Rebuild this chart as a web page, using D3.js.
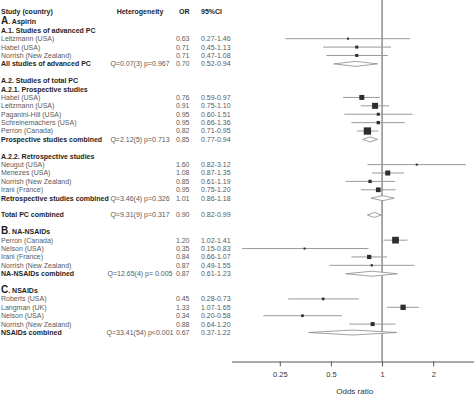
<!DOCTYPE html>
<html>
<head>
<meta charset="utf-8">
<script src="https://cdn.jsdelivr.net/npm/d3@7"></script>
<style>
  body { margin: 0; background: #fff; }
  svg { display: block; font-family: "Liberation Sans", Arial, Helvetica, sans-serif; }
</style>
</head>
<body>
<script>
// individual studies
var studyNames = ["Leitzmann (USA)", "Habel (USA)", "Norrish (New Zealand)",
  "Habel (USA)", "Leitzmann (USA)", "Paganini-Hill (USA)", "Schreinemachers (USA)", "Perron (Canada)",
  "Neugut (USA)", "Menezes (USA)", "Norrish (New Zealand)", "Irani (France)",
  "Perron (Canada)", "Nelson (USA)", "Irani (France)", "Norrish (New Zealand)",
  "Roberts (USA)", "Langman (UK)", "Nelson (USA)", "Norrish (New Zealand)"];
var studyOR   = [0.63, 0.71, 0.71, 0.76, 0.91, 0.95, 0.95, 0.82, 1.60, 1.08, 0.85, 0.95, 1.20, 0.35, 0.84, 0.87, 0.45, 1.33, 0.34, 0.88];
var studyLow  = [0.27, 0.45, 0.47, 0.59, 0.75, 0.60, 0.66, 0.71, 0.82, 0.87, 0.61, 0.75, 1.02, 0.15, 0.66, 0.49, 0.28, 1.07, 0.20, 0.64];
var studyHigh = [1.46, 1.13, 1.08, 0.97, 1.10, 1.51, 1.36, 0.95, 3.12, 1.35, 1.19, 1.20, 1.41, 0.83, 1.07, 1.55, 0.73, 1.65, 0.58, 1.20];
// relative study weights (box area)
var studyWeight = [4, 9, 9, 25, 36, 9, 11, 53, 4, 25, 11, 22, 45, 4, 18, 5, 7, 28, 7, 16];

// pooled estimates
var combinedNames = ["All studies of advanced PC", "Prospective studies combined", "Retrospective studies combined",
  "Total PC combined", "NA-NSAIDs combined", "NSAIDs combined"];
var combinedHet  = ["Q=0.07(3) p=0.967", "Q=2.12(5) p=0.713", "Q=3.46(4) p=0.326",
  "Q=9.31(9) p=0.317", "Q=12.65(4) p= 0.005", "Q=33.41(54) p<0.001"];
var combinedOR   = [0.70, 0.85, 1.01, 0.90, 0.87, 0.67];
var combinedLow  = [0.52, 0.77, 0.86, 0.82, 0.61, 0.37];
var combinedHigh = [0.94, 0.94, 1.18, 0.99, 1.23, 1.22];

var tickValues = [0.25, 0.5, 1, 2];

// row order of the table
var layout = [
  ["cols"],
  ["letter", "A", "Aspirin"],
  ["sub", "A.1. Studies of advanced PC"],
  ["study", 0], ["study", 1], ["study", 2],
  ["comb", 0],
  ["gap"],
  ["sub", "A.2. Studies of total PC"],
  ["sub", "A.2.1. Prospective studies"],
  ["study", 3], ["study", 4], ["study", 5], ["study", 6], ["study", 7],
  ["comb", 1],
  ["gap"],
  ["sub", "A.2.2. Retrospective studies"],
  ["study", 8], ["study", 9], ["study", 10], ["study", 11],
  ["comb", 2],
  ["gap"],
  ["comb", 3],
  ["gap"],
  ["letter", "B", "NA-NSAIDs"],
  ["study", 12], ["study", 13], ["study", 14], ["study", 15],
  ["comb", 4],
  ["gap"],
  ["letter", "C", "NSAIDs"],
  ["study", 16], ["study", 17], ["study", 18], ["study", 19],
  ["comb", 5]
];

var width = 474, height = 395;
var svg = d3.select("body").append("svg")
  .attr("width", width)
  .attr("height", height);

var y = d3.scalePoint().domain(d3.range(layout.length)).range([13.5, 332.5]);
var x = d3.scaleLog().domain([0.13, 3.5]).range([231.5, 474.5]);
var boxSize = d3.scaleSqrt().domain([0, d3.max(studyWeight)]).range([0, 7.3]);

var axisY = 361.5;
var fs = 7;
var grey = "#5a5a5a", dark = "#1e1e1e";

var colHet = 140, colOR = 189.5, colCI = 201;

// reference line at OR = 1
svg.append("line")
  .attr("x1", x(1)).attr("x2", x(1))
  .attr("y1", 0).attr("y2", axisY)
  .attr("stroke", "#555").attr("stroke-width", 1);

var g = svg.append("g");

function label(xx, yy, txt, anchor, bold, col) {
  return g.append("text").attr("x", xx).attr("y", yy).attr("dy", ".35em")
    .attr("text-anchor", anchor || "start")
    .attr("font-size", fs)
    .attr("font-weight", bold ? "bold" : null)
    .attr("fill", col || grey)
    .text(txt);
}

layout.forEach(function(r, i) {
  var yy = y(i);
  if (r[0] == "cols") {
    yy = yy - 1.5;
    label(1, yy, "Study (country)", "start", true, dark);
    label(colHet, yy, "Heterogeneity", "middle", true, dark);
    label(colOR, yy, "OR", "end", true, dark);
    label(colCI, yy, "95%CI", "start", true, dark);
  } else if (r[0] == "letter") {
    var t = g.append("text").attr("x", 1).attr("y", yy).attr("dy", ".35em")
      .attr("font-size", fs).attr("font-weight", "bold").attr("fill", dark);
    t.append("tspan").attr("font-size", 10).text(r[1]);
    t.append("tspan").text(". " + r[2]);
  } else if (r[0] == "sub") {
    label(1, yy, r[1], "start", true, dark);
  } else if (r[0] == "study") {
    var k = r[1];
    label(1, yy, studyNames[k]);
    label(colOR, yy, studyOR[k].toFixed(2), "end");
    label(colCI, yy, studyLow[k].toFixed(2) + "-" + studyHigh[k].toFixed(2));
    // CI whisker
    g.append("line")
      .attr("x1", x(studyLow[k])).attr("x2", x(studyHigh[k]))
      .attr("y1", yy).attr("y2", yy)
      .attr("stroke", "#9a9a9a").attr("stroke-width", 1);
    var s = Math.max(boxSize(studyWeight[k]), 2);
    g.append("rect")
      .attr("x", x(studyOR[k]) - s / 2).attr("y", yy - s / 2)
      .attr("width", s).attr("height", s)
      .attr("fill", "#2e2e2e");
  } else if (r[0] == "comb") {
    var c = r[1];
    label(1, yy, combinedNames[c], "start", true, dark);
    label(colHet, yy, combinedHet[c], "middle");
    label(colOR, yy, combinedOR[c].toFixed(2), "end");
    label(colCI, yy, combinedLow[c].toFixed(2) + "-" + combinedHigh[c].toFixed(2));
    var h = 2.5;
    var pts = [[x(combinedLow[c]), yy], [x(combinedOR[c]), yy - h], [x(combinedHigh[c]), yy], [x(combinedOR[c]), yy + h]];
    g.append("path")
      .attr("d", "M" + pts.join("L") + "Z")
      .attr("fill", "#fff").attr("stroke", "#8a8a8a").attr("stroke-width", 0.8);
  }
});

// x axis
var axis = svg.append("g")
  .attr("transform", "translate(0," + axisY + ")")
  .call(d3.axisBottom(x).tickValues(tickValues).tickFormat(function(d) { return d; }).tickSize(5).tickSizeOuter(0));
axis.attr("font-family", null);
axis.select(".domain").attr("stroke", "#555");
axis.selectAll(".tick line").attr("stroke", "#555");
axis.selectAll(".tick text").attr("font-size", 7.5).attr("fill", "#333").attr("dy", "1.05em");

svg.append("text")
  .attr("x", x(0.69))
  .attr("y", 391).attr("dy", ".35em")
  .attr("text-anchor", "middle")
  .attr("font-size", 8).attr("fill", "#333")
  .text("Odds ratio");
</script>
</body>
</html>
